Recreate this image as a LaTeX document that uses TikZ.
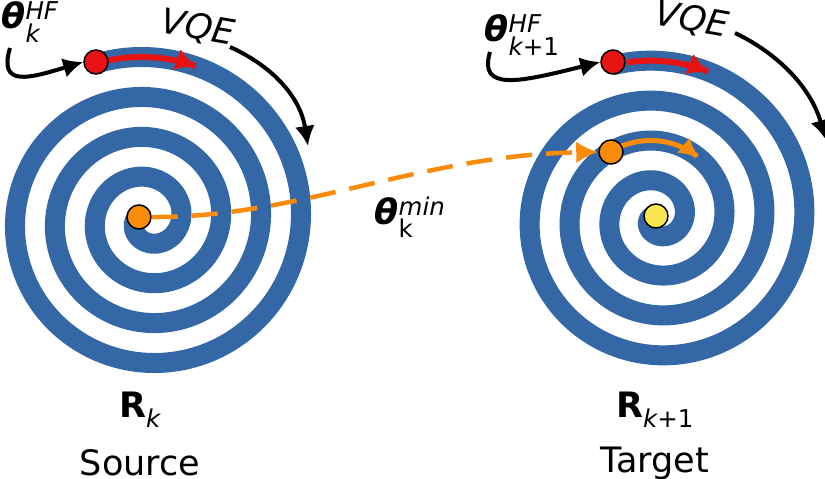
\documentclass[tikz,border=0pt]{standalone}
\usepackage{amsmath}
\usepackage{fontspec}
\setmainfont{DejaVu Sans}
\usetikzlibrary{arrows.meta}
\definecolor{sp}{RGB}{52,103,166}
\definecolor{orng}{RGB}{250,140,10}
\definecolor{rd}{RGB}{232,20,20}
\begin{document}
\begin{tikzpicture}[x=1pt,y=-1pt,
  spiral/.style={line width=20pt,sp},
  dot/.style={circle,draw=black,line width=1.5pt,minimum size=24pt,inner sep=0pt},
  blk/.style={line width=4pt,-{Latex[length=20pt,width=20pt]}},
  lbl/.style={font=\fontsize{35}{38}\selectfont,inner sep=0pt}]
\useasboundingbox (0,0) rectangle (825,479);
% left spiral
\draw[spiral] plot[domain=109:-1305,samples=400,smooth] ({148+(165-(109-\x)/9)*cos(\x)},{220-(165-(109-\x)/9)*sin(\x)});
% right spiral
\draw[spiral] plot[domain=106:-1310,samples=400,smooth] ({657+(159-(106-\x)/9)*cos(\x)},{218-(159-(106-\x)/9)*sin(\x)});
% red arrows
\draw[rd,line width=6pt,-{Latex[length=22pt,width=22pt]}] plot[domain=104:72,samples=30,smooth] ({148+(165-(109-\x)/9)*cos(\x)},{220-(165-(109-\x)/9)*sin(\x)});
\draw[rd,line width=6pt,-{Latex[length=22pt,width=22pt]}] plot[domain=101:70,samples=30,smooth] ({657+(159-(106-\x)/9)*cos(\x)},{218-(159-(106-\x)/9)*sin(\x)});
% orange arrow right
\draw[orng,line width=5pt,-{Latex[length=20pt,width=20pt]}] plot[domain=-596:-665,samples=30,smooth] ({657+(159-(106-\x)/9)*cos(\x)},{218-(159-(106-\x)/9)*sin(\x)});
% dots
\node[dot,fill=rd] (r1) at (96,62) {};
\node[dot,fill=rd] (r2) at (613,62) {};
\node[dot,fill=orng] (o1) at (139,217) {};
\node[dot,fill=orng] (o2) at (611,152) {};
\node[dot,fill={rgb,255:red,250;green,230;blue,80}] (y2) at (656,216) {};
% dashed
\draw[orng,line width=4.5pt,dash pattern=on 26pt off 14pt,-{Latex[length=22pt,width=22pt]}] (o1.east) .. controls (300,218) and (420,155) .. (o2.west);
\node[lbl] (tm) at (410,217) {{\bfseries\itshape θ}$^{\text{\itshape min}}_{\text{k}}$};
% black arrows
\coordinate (a1) at (10,48);
\draw[blk] (a1) .. controls (-2,88) and (30,78) .. (r1.west);
\coordinate (a2) at (490,52);
\draw[blk] (a2) .. controls (478,92) and (520,82) .. (r2.west);
\coordinate (v1s) at (230,47);
\coordinate (v1e) at (308,146);
\draw[blk] (v1s) .. controls (270,65) and (300,95) .. (v1e);
\coordinate (v2s) at (735,33);
\coordinate (v2e) at (826,140);
\draw[blk] (v2s) .. controls (775,52) and (810,85) .. (v2e);
% labels
\node[lbl] (h1) at (30,22) {{\bfseries\itshape θ}$^{\text{\itshape HF}}_{\text{\itshape k}}$};
\node[lbl] (h2) at (522,35) {{\bfseries\itshape θ}$^{\text{\itshape HF}}_{\text{\itshape k}\text{+1}}$};
\node[lbl,rotate=-10] (vqe1) at (198,28) {\itshape VQE};
\node[lbl,rotate=-10] (vqe2) at (692,20) {\itshape VQE};
\node[lbl] (R1) at (140,410) {$\mathbf{R}_{\text{\itshape k}}$};
\node[lbl] (R2) at (655,410) {$\mathbf{R}_{\text{\itshape k}\text{+1}}$};
\node[lbl] (s) at (140,463) {Source};
\node[lbl] (t) at (655,463) {Target};
\end{tikzpicture}
\end{document}
